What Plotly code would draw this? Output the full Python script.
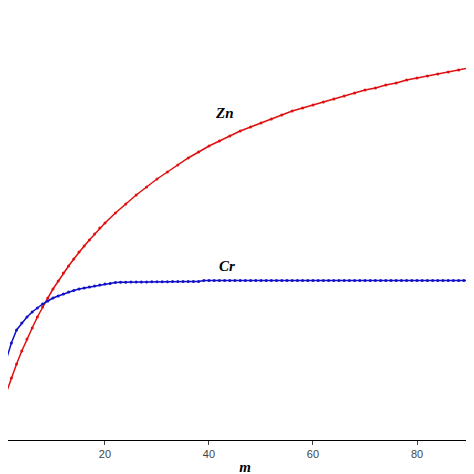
import plotly.graph_objects as go

m_cr = list(range(1, 93))
cr = [80, 97, 110, 117, 123, 128, 132, 136, 139, 142, 144, 146, 148, 149.5, 151, 152, 153, 154, 155, 156,
      156.5, 157.5, 157.7, 157.8, 158, 158, 158.1, 158.1, 158.2, 158.3, 158.3, 158.3, 158.4, 158.4, 158.5,
      158.5, 158.5, 158.5] + [159.5] * 54

m_zn = [1, 2, 3, 4, 5, 6, 7, 8, 9, 10, 11, 12, 13, 14, 15, 16, 17, 18, 19, 20,
        22, 24, 26, 28, 30, 32, 34, 36, 38, 40, 42, 44, 46, 48, 50, 52, 54, 56,
        58, 60, 62, 64, 66, 68, 70, 72, 74, 76, 78, 80, 82, 84, 86, 88, 90, 92]
zn = [47, 62, 76, 89, 101, 112, 123, 133, 142, 151, 159, 167, 174, 181, 188, 194, 200, 206, 212, 217,
      227, 236, 245, 253, 261, 268, 275, 282, 288, 294, 299, 304, 309, 313, 317, 321, 325, 329,
      332, 335, 338, 341, 344, 347, 350, 352, 355, 357, 360, 362, 364, 366, 368, 370, 372, 374]

fig = go.Figure()
fig.add_trace(go.Scatter(x=m_zn, y=zn, mode="lines+markers", line=dict(color="#e01010", width=1.5),
                         marker=dict(size=3, color="#e01010")))
fig.add_trace(go.Scatter(x=m_cr, y=cr, mode="lines+markers", line=dict(color="#1010c8", width=1.5),
                         marker=dict(size=3, color="#1010c8")))

fig.add_annotation(x=43, y=327, text="<b><i>Zn</i></b>", showarrow=False,
                   font=dict(family="Liberation Serif", size=15, color="black"))
fig.add_annotation(x=43.5, y=174, text="<b><i>Cr</i></b>", showarrow=False,
                   font=dict(family="Liberation Serif", size=15, color="black"))

fig.update_layout(
    width=474, height=474, showlegend=False,
    margin=dict(l=0, r=0, t=0, b=42, autoexpand=False),
    plot_bgcolor="white", paper_bgcolor="white",
    xaxis=dict(range=[1.35, 92.5], tickvals=[20, 40, 60, 80], ticks="outside", ticklen=4,
               showline=True, linecolor="black", showgrid=False, zeroline=False, automargin=False,
               tickfont=dict(family="Liberation Sans", size=11, color="#444"),
               title=dict(text="<b><i>m</i></b>", standoff=2,
                          font=dict(family="Liberation Serif", size=15, color="black"))),
    yaxis=dict(range=[0, 432], visible=False),
)
fig.write_html("out.html")
